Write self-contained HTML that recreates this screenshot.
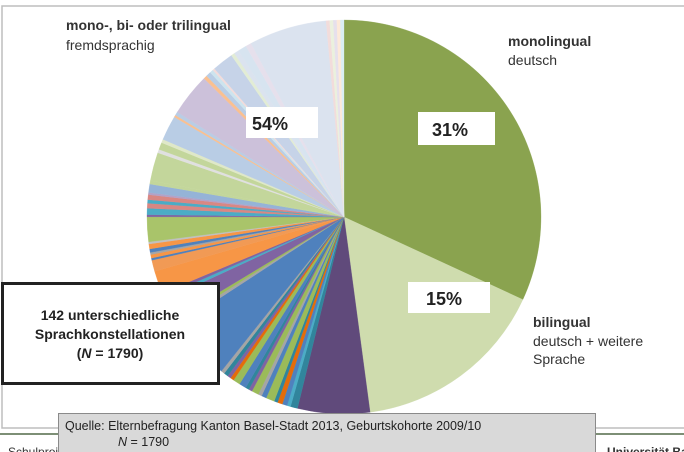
<!DOCTYPE html>
<html><head><meta charset="utf-8"><style>
body{margin:0;width:684px;height:452px;overflow:hidden;background:#fff;font-family:"Liberation Sans",sans-serif;}
</style></head><body>
<svg id="chart" width="684" height="452" style="position:absolute;left:0;top:0">
<rect x="2" y="6" width="700" height="422" fill="#fff" stroke="#bdbdbd" stroke-width="1.5"/>
<line x1="0" y1="434" x2="684" y2="434" stroke="#7d8f76" stroke-width="2"/>
<text x="8" y="456" font-size="12" fill="#333">Schulprojekt</text>
<text x="607" y="456" font-size="12" font-weight="bold" fill="#333">Universität Basel</text>
<g id="slices"></g>
<g>
<text x="508" y="46" font-size="14" font-weight="bold" fill="#333">monolingual</text>
<text x="508" y="65" font-size="14" fill="#333">deutsch</text></g>
<g>
<text x="533" y="327" font-size="14" font-weight="bold" fill="#333">bilingual</text>
<text x="533" y="346" font-size="14" fill="#333">deutsch  + weitere</text>
<text x="533" y="364" font-size="14" fill="#333">Sprache</text></g>
<g>
<text x="66" y="30" font-size="14" font-weight="bold" fill="#333">mono-, bi- oder trilingual</text>
<text x="66" y="50" font-size="14" fill="#333">fremdsprachig</text></g>
<g><rect x="418" y="112" width="77" height="33" fill="#fff"/><text x="432" y="136" font-size="18" font-weight="bold" fill="#222">31%</text></g>
<g><rect x="408" y="282" width="82" height="31" fill="#fff"/><text x="426" y="305" font-size="18" font-weight="bold" fill="#222">15%</text></g>
<g><rect x="246" y="107" width="72" height="31" fill="#fff"/><text x="252" y="130" font-size="18" font-weight="bold" fill="#222">54%</text></g>
<g>
<rect x="2.5" y="283.5" width="216" height="100" fill="#fff" stroke="#222" stroke-width="3"/>
<text x="110" y="320" font-size="14" font-weight="bold" fill="#222" text-anchor="middle">142 unterschiedliche</text>
<text x="110" y="339" font-size="14" font-weight="bold" fill="#222" text-anchor="middle">Sprachkonstellationen</text>
<text x="110" y="358" font-size="14" font-weight="bold" fill="#222" text-anchor="middle">(<tspan font-style="italic">N</tspan> = 1790)</text></g>
<g>
<rect x="58.5" y="413.5" width="537" height="45" fill="#d9d9d9" stroke="#8a8a8a"/>
<text x="65" y="430" font-size="12.5" fill="#222">Quelle: Elternbefragung Kanton Basel-Stadt 2013, Geburtskohorte 2009/10</text>
<text x="118" y="446" font-size="12.5" fill="#222"><tspan font-style="italic">N</tspan> = 1790</text></g>
</svg>
<script>
const sliceValues=[550,276,102,10,5,7,7,5,12,7,5,10,5,5,10,10,5,5,6,5,88,5,5,30,5,5,32,16,3,5,3,5,7,3,35,3,9,7,5,7,3,12,5,40,5,10,5,35,3,5,60,5,7,5,3,30,5,7,12,8,110,5,5,5,5,5];
const sliceColors=["#8aa34f","#cfdcae","#604a7b","#31859c","#4bacc6","#4f81bd","#e46c0a","#31859c","#9bbb59","#4f81bd","#a5a5a5","#9bbb59","#8064a2","#31859c","#4f81bd","#9bbb59","#e46c0a","#8064a2","#31859c","#a5a5a5","#4f81bd","#a5a5a5","#9bbb59","#8064a2","#4bacc6","#8064a2","#f79646","#f19a55","#4f81bd","#f79646","#a5a5a5","#4f81bd","#f79646","#c0c0c0","#a9c46a","#8064a2","#4bacc6","#d98783","#4bacc6","#d98783","#b3a2c7","#95b3d7","#c3d69b","#c3d69b","#e0e0e0","#c3d69b","#dfe8c8","#b9cde5","#fac090","#b9cde5","#ccc1da","#fac090","#b9cde5","#cde4ee","#f2dcdb","#c6d3e8","#e2ecd5","#dbe3ef","#d7e4f0","#e6e0ec","#dbe3ef","#f2dcdb","#ebf1de","#e6e0ec","#fde9d9","#dbeef4"];
const cx=344,cy=217,r=197;
const total=sliceValues.reduce((a,b)=>a+b,0);
const g=document.getElementById('slices');
function angleOf(v){return v/total*2*Math.PI;}
let a0=0;
sliceValues.forEach((v,i)=>{
  const a1=a0+angleOf(v);
  const x0=cx+r*Math.sin(a0),y0=cy-r*Math.cos(a0),x1=cx+r*Math.sin(a1),y1=cy-r*Math.cos(a1);
  const large=(a1-a0)>Math.PI?1:0;
  const p=document.createElementNS('http://www.w3.org/2000/svg','path');
  p.setAttribute('d',`M${cx},${cy}L${x0},${y0}A${r},${r} 0 ${large} 1 ${x1},${y1}Z`);
  p.setAttribute('fill',sliceColors[i%sliceColors.length]);
  p.setAttribute('stroke',sliceColors[i%sliceColors.length]);
  p.setAttribute('stroke-width','0.3');
  
  
  g.appendChild(p);
  a0=a1;
});
</script>
</body></html>
